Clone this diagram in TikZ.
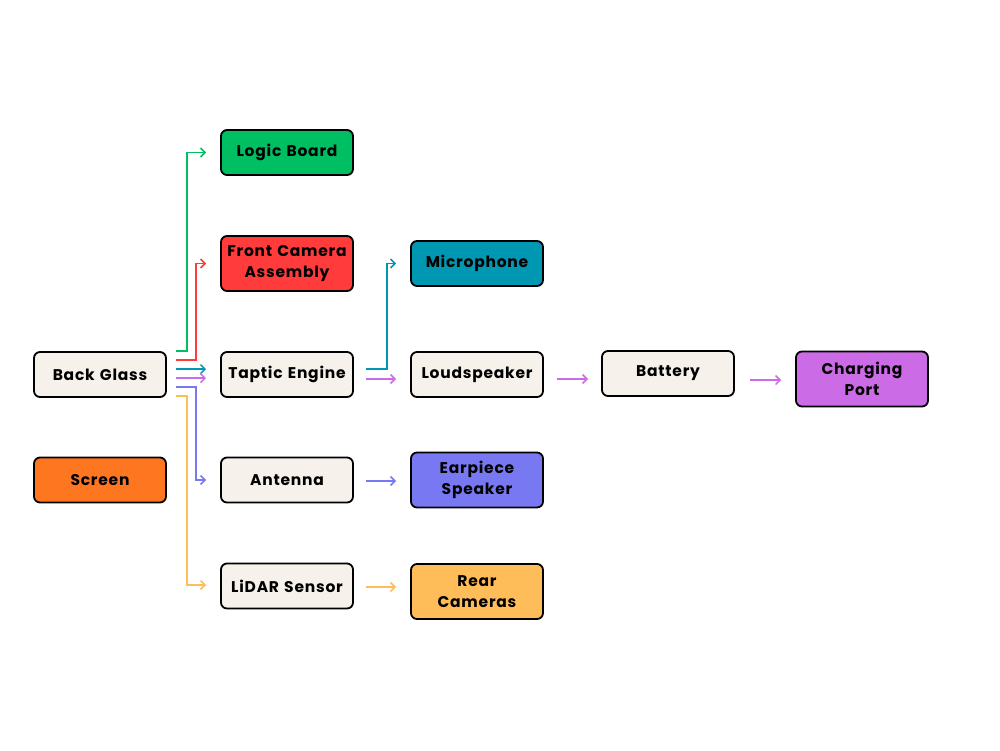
\documentclass[tikz,border=0pt]{standalone}
\usepackage{fontspec}
\setmainfont{Poppins}[LetterSpace=5]
\usetikzlibrary{calc,arrows.meta}
\definecolor{cgreen}{HTML}{00BF63}
\definecolor{cred}{HTML}{FF3B3B}
\definecolor{cteal}{HTML}{0097B2}
\definecolor{cpurple}{HTML}{CB6CE6}
\definecolor{cblue}{HTML}{7878F3}
\definecolor{corange}{HTML}{FF7620}
\definecolor{cyellow}{HTML}{FFBD59}
\definecolor{ccream}{HTML}{F6F2EB}
\tikzset{
  box/.style={draw=black, line width=1.8pt, rounded corners=6pt, minimum width=132pt,
    minimum height=45pt, inner sep=0pt, align=center, text width=130pt,
    font=\fontsize{15.5}{21.5}\selectfont\bfseries, fill=ccream},
  tall/.style={minimum height=55pt},
  conn/.style={line width=1.5pt, -{Straight Barb[length=4.5pt,width=9pt,line width=1.5pt]}},
}
\begin{document}
\begin{tikzpicture}[x=1pt,y=-1pt]
\useasboundingbox (0,0) rectangle (1000,750);
\fill[white] (0,0) rectangle (1000,750);
% nodes
\node[box] (bg) at (100,374.5) {Back Glass};
\node[box, fill=corange] (sc) at (100,480) {Screen};
\node[box, fill=cgreen] (lb) at (287,152.5) {Logic Board};
\node[box, tall, fill=cred] (fc) at (287,263.5) {Front Camera\\Assembly};
\node[box] (te) at (287,374.5) {Taptic Engine};
\node[box] (an) at (287,480) {Antenna};
\node[box] (li) at (287,586) {LiDAR Sensor};
\node[box, fill=cteal] (mi) at (477,263.5) {Microphone};
\node[box] (ls) at (477,374.5) {Loudspeaker};
\node[box, tall, fill=cblue] (ea) at (477,480) {Earpiece\\Speaker};
\node[box, tall, fill=cyellow] (rc) at (477,591.5) {Rear\\Cameras};
\node[box] (ba) at (668,373.5) {Battery};
\node[box, tall, fill=cpurple] (cp) at (862,379) {Charging\\Port};
% connectors from Back Glass
\draw[conn, cgreen] ($(bg.north east)+(9,0)$) -- ++(11,0) |- ($(lb.west)+(-14,0)$);
\draw[conn, cred] ($(bg.north east)+(9,9)$) -- ++(20,0) |- ($(fc.west)+(-14,0)$);
\coordinate (t1) at ($(bg.north east)+(9,18)$);
\draw[conn, cteal, shorten >=14pt] (t1) -- (t1 -| te.west);
\coordinate (t2) at ($(bg.north east)+(9,27)$);
\draw[conn, cpurple, shorten >=14pt] (t2) -- (t2 -| te.west);
\draw[conn, cblue] ($(bg.north east)+(9,36)$) -- ++(20,0) |- ($(an.west)+(-14,0)$);
\draw[conn, cyellow] ($(bg.north east)+(9,45)$) -- ++(11,0) |- ($(li.west)+(-14,-1)$);
% Taptic
\draw[conn, cteal] ($(te.east)+(12,-5.5)$) -- ++(21,0) |- ($(mi.west)+(-14,0)$);
\coordinate (t3) at ($(te.east)+(12,4.5)$);
\draw[conn, cpurple, shorten >=14pt] (t3) -- (t3 -| ls.west);
% chain
\coordinate (t4) at ($(ls.east)+(13,4.5)$);
\draw[conn, cpurple, shorten >=13pt] (t4) -- (t4 -| ba.west);
\coordinate (t5) at ($(ba.east)+(15,6.5)$);
\draw[conn, cpurple, shorten >=14pt] (t5) -- (t5 -| cp.west);
\coordinate (t6) at ($(an.east)+(12,1)$);
\draw[conn, cblue, shorten >=14pt] (t6) -- (t6 -| ea.west);
\coordinate (t7) at ($(li.east)+(12,1)$);
\draw[conn, cyellow, shorten >=14pt] (t7) -- (t7 -| rc.west);
\end{tikzpicture}
\end{document}
